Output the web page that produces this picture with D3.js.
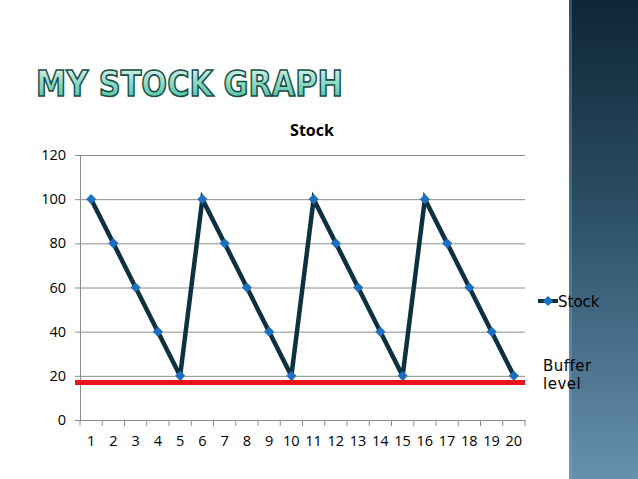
<!DOCTYPE html>
<html lang="en">
<head>
<meta charset="UTF-8">
<title>My stock graph</title>
<script src="https://cdn.jsdelivr.net/npm/d3@7/dist/d3.min.js"></script>
<style>
  html, body { margin: 0; padding: 0; background: #fff; }
  #chart { width: 638px; height: 479px; }
</style>
</head>
<body>
<div id="chart"></div>
<script>
// data
const periods = d3.range(1, 21);
const stock = [100, 80, 60, 40, 20, 100, 80, 60, 40, 20, 100, 80, 60, 40, 20, 100, 80, 60, 40, 20];
const yTicks = [0, 20, 40, 60, 80, 100, 120];
const bufferLevel = 17;

let draw = () => {
    let svg = d3.select("#chart").append("svg")
        .attr("width", 638)
        .attr("height", 479);

    let defs = svg.append("defs");
    // right side panel gradient
    let pg = defs.append("linearGradient").attr("id", "panel")
        .attr("x1", 0).attr("y1", 0).attr("x2", 0).attr("y2", 1);
    pg.append("stop").attr("offset", "0%").attr("stop-color", "#0e2635");
    pg.append("stop").attr("offset", "45%").attr("stop-color", "#2c5068");
    pg.append("stop").attr("offset", "100%").attr("stop-color", "#6690ad");
    // title fill
    let tg = defs.append("linearGradient").attr("id", "titleFill")
        .attr("x1", 0).attr("y1", 0).attr("x2", 0).attr("y2", 1);
    tg.append("stop").attr("offset", "0%").attr("stop-color", "#e6f6f1");
    tg.append("stop").attr("offset", "55%").attr("stop-color", "#7fd6bd");
    tg.append("stop").attr("offset", "100%").attr("stop-color", "#3fbf9a");

    svg.append("rect").attr("x", 569).attr("y", 0).attr("width", 69).attr("height", 479)
        .attr("fill", "url(#panel)");
    svg.append("rect").attr("x", 569).attr("y", 0).attr("width", 3).attr("height", 479)
        .attr("fill", "#8aa9bd").attr("opacity", 0.35);

    // slide title
    svg.append("text")
        .attr("x", 36).attr("y", 96)
        .attr("textLength", 307).attr("lengthAdjust", "spacingAndGlyphs")
        .attr("font-family", "DejaVu Sans").attr("font-weight", "bold")
        .attr("font-size", 35)
        .attr("fill", "url(#titleFill)")
        .attr("stroke", "#174b47").attr("stroke-width", 1.6)
        .text("MY STOCK GRAPH");

    let padding = { top: 155, left: 80, bottom: 59, right: 113 };
    let width = 638 - padding.left - padding.right;
    let height = 479 - padding.top - padding.bottom;

    let focus = svg.append("g")
        .attr("transform", "translate(" + padding.left + "," + padding.top + ")");

    let x = d3.scaleBand().domain(periods).range([0, width]);
    let y = d3.scaleLinear().domain([0, 120]).range([height, 0]);

    // gridlines (with the small tick to the left)
    focus.append("g")
        .attr("class", "grid")
        .call(d3.axisLeft(y).tickValues(yTicks).tickSize(-width - 5).tickFormat(""))
        .attr("transform", "translate(-5,0)")
        .call(g => g.select(".domain").remove())
        .call(g => g.selectAll("line").attr("stroke", "#8c8c8c").attr("x1", 0).attr("x2", width + 5));

    // y axis
    let yAxis = focus.append("g")
        .call(d3.axisLeft(y).tickValues(yTicks).tickSize(0).tickPadding(14));
    yAxis.select(".domain").attr("stroke", "#8c8c8c");
    yAxis.selectAll("text").attr("font-family", "Open Sans").attr("font-size", 14.5).attr("fill", "#000");

    // x axis with ticks on band edges
    let xAxis = focus.append("g")
        .attr("transform", "translate(0," + height + ")")
        .call(d3.axisBottom(x).tickSize(0).tickPadding(16));
    xAxis.select(".domain").attr("stroke", "#8c8c8c");
    xAxis.selectAll("text").attr("font-family", "Open Sans").attr("font-size", 14.5).attr("fill", "#000");
    xAxis.selectAll(".edge").data(periods.concat([21])).enter().append("line")
        .attr("x1", d => d <= 20 ? x(d) : width).attr("x2", d => d <= 20 ? x(d) : width)
        .attr("y1", 0).attr("y2", 6).attr("stroke", "#8c8c8c");

    // chart title
    svg.append("text")
        .attr("x", 312).attr("y", 136).attr("text-anchor", "middle")
        .attr("font-family", "Open Sans").attr("font-weight", "bold").attr("font-size", 16)
        .text("Stock");

    // stock line
    let line = d3.line()
        .x((d, i) => x(periods[i]) + x.bandwidth() / 2)
        .y(d => y(d));
    focus.append("path")
        .datum(stock)
        .attr("d", line)
        .attr("fill", "none")
        .attr("stroke", "#0d3140")
        .attr("stroke-width", 4.5)
        .attr("stroke-linejoin", "miter");

    let diamond = d3.symbol().type(d3.symbolSquare).size(52);
    focus.append("g").selectAll("path").data(stock).enter().append("path")
        .attr("d", diamond)
        .attr("transform", (d, i) => "translate(" + (x(periods[i]) + x.bandwidth() / 2) + "," + y(d) + ") rotate(45)")
        .attr("fill", "#1f6fc0");

    // buffer level line
    focus.append("line")
        .attr("x1", -5).attr("x2", width)
        .attr("y1", y(bufferLevel)).attr("y2", y(bufferLevel))
        .attr("stroke", "#e8141c").attr("stroke-width", 5);

    // legend
    let lg = svg.append("g").attr("transform", "translate(538,301)");
    lg.append("line").attr("x1", 0).attr("x2", 20).attr("y1", 0).attr("y2", 0)
        .attr("stroke", "#0d3140").attr("stroke-width", 4);
    lg.append("path").attr("d", diamond).attr("transform", "translate(10,0) rotate(45)").attr("fill", "#1f6fc0");
    lg.append("text").attr("x", 20).attr("y", 6)
        .attr("font-family", "DejaVu Sans").attr("font-size", 15).text("Stock");

    let bt = svg.append("text").attr("font-family", "DejaVu Sans").attr("font-size", 15)
        .attr("letter-spacing", 0.5);
    bt.append("tspan").attr("x", 543).attr("y", 371).text("Buffer");
    bt.append("tspan").attr("x", 543).attr("y", 389).text("level");
};
draw();
</script>
</body>
</html>
